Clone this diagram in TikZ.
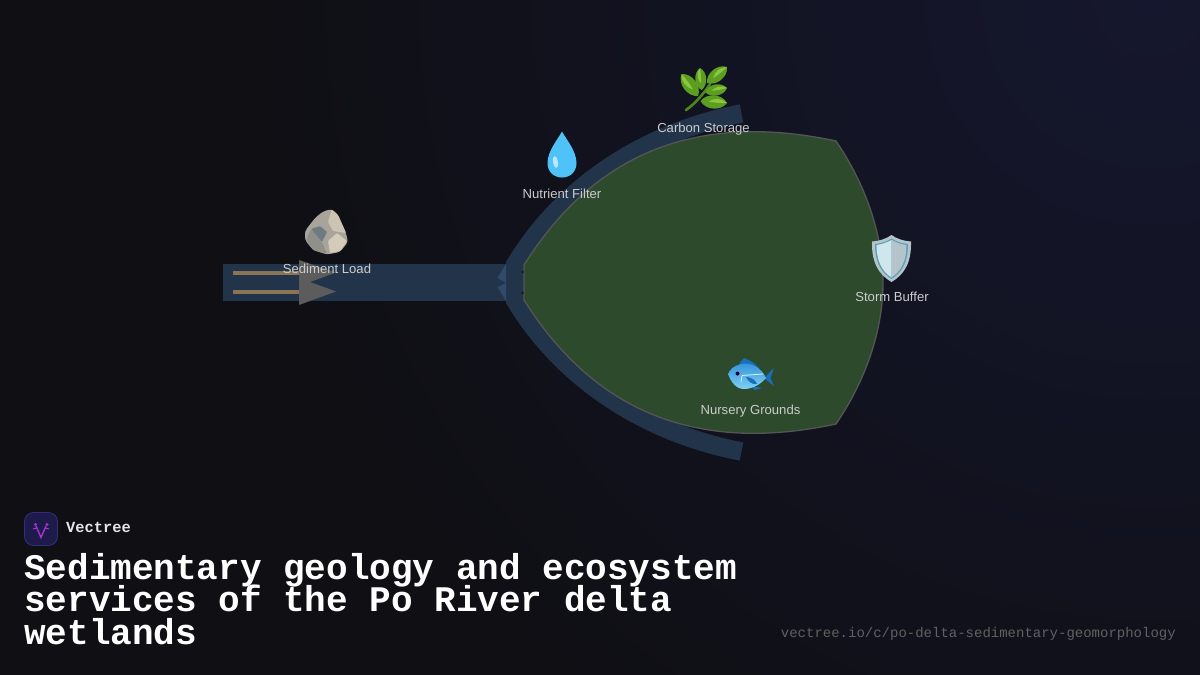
\documentclass[tikz,border=0pt]{standalone}
\usepackage{fontspec}
\setmainfont{Liberation Sans}
\setmonofont{Liberation Mono}
\usepackage{tikz}
\usetikzlibrary{positioning, arrows.meta, shapes.geometric, calc}
\definecolor{bgdark}{HTML}{0F0F14}
\definecolor{bgblue}{HTML}{15172E}
\definecolor{channel}{HTML}{22344A}
\definecolor{headblue}{HTML}{2F4A6B}
\definecolor{marsh}{HTML}{2D4A2D}
\definecolor{marshline}{HTML}{555555}
\definecolor{sediment}{HTML}{8B7355}
\definecolor{headgrey}{HTML}{5C5C5C}
\definecolor{leafgreen}{HTML}{5C9E21}
\definecolor{leaflight}{HTML}{8CC63F}
\definecolor{dropblue}{HTML}{4FC3F7}
\definecolor{fishdark}{HTML}{1B6FB8}
\definecolor{fishtop}{HTML}{2F8FD8}
\definecolor{fishlow}{HTML}{7FD0F5}
\definecolor{logofill}{HTML}{1E1B4B}
\definecolor{logoline}{HTML}{312E81}
\definecolor{logomark}{HTML}{A632D0}
\definecolor{rockbase}{HTML}{A8A49C}
\definecolor{rocklight}{HTML}{CDC3B3}
\definecolor{rockpale}{HTML}{D5CBBA}
\definecolor{rockblue}{HTML}{6D7A80}
\definecolor{rocklow}{HTML}{8F908A}
\definecolor{shieldrim}{HTML}{B4C4CC}
\definecolor{shieldline}{HTML}{5D9FB5}
\definecolor{shieldleft}{HTML}{CFE6EC}
\definecolor{shieldright}{HTML}{B5C4CB}
\tikzset{
    lbl/.style={font=\fontsize{13.1}{15}\selectfont, text=black!20!white, inner sep=0pt},
    titleline/.style={anchor=base west, inner sep=0pt, font=\ttfamily\bfseries\fontsize{36}{40}\selectfont, text=white}
}

\begin{document}
\begin{tikzpicture}[x=1pt, y=-1pt]
    \useasboundingbox (0,0) rectangle (1200,675);
    \fill[bgdark] (0,0) rectangle (1200,675);
    \begin{scope}
        \clip (0,0) rectangle (1200,675);
        \shade[inner color=bgblue, outer color=bgdark] (1150,0) circle (900);
    \end{scope}

    % Channel and levee band
    \fill[channel] (223,264) rectangle (506,301);
    \draw[channel, line width=18.5pt] (741.5,113.5) .. controls (640,133) and (560,190) .. (515,265)
        -- (515,300) .. controls (560,375) and (640,432) .. (741.5,451.5);

    % Heads on the band
    \fill[headblue] (506,264) -- (497.5,278) -- (506,283) -- cycle;
    \fill[headblue] (506,283) -- (497.5,287) -- (506,301) -- cycle;
    \foreach \y in {272, 293} {
        \fill[black!80!channel] (524,\y-2) -- (521.5,\y) -- (524,\y+2) -- cycle;
    }

    % Wetland lens
    \draw[draw=marshline, fill=marsh, line width=1.3pt] (524,265)
        .. controls (585,168) and (680,107.5) .. (836,141)
        .. controls (866,185) and (883,235) .. (883,282.5)
        .. controls (883,330) and (866,380) .. (836,424)
        .. controls (680,457.5) and (585,397) .. (524,300) -- cycle;

    % Sediment inflow
    \coordinate (inA) at (233,273);
    \coordinate (inB) at (233,291.5);
    \coordinate (tipA) at (299,273);
    \coordinate (tipB) at (299,291.5);
    \draw[sediment, line width=4pt] (inA) -- (tipA);
    \draw[sediment, line width=4pt] (inB) -- (tipB);
    \fill[headgrey] (299,260) -- (336,272.5) -- (299,286) -- cycle;
    \fill[headgrey] (299,278) -- (336,291.5) -- (299,305) -- cycle;

    % Rock
    \fill[rockbase, rounded corners=3pt] (331.7,209) -- (338,215) -- (346,233) -- (348,242)
        -- (340,252) -- (327,254.5) -- (313,250) -- (305,240) -- (305,231) -- (315,218) -- (323,211.5) -- cycle;
    \fill[rocklight, rounded corners=1pt] (331.7,209.5) -- (338,215) -- (346,233) -- (333,231) -- (328,222) -- cycle;
    \fill[rockblue, rounded corners=1pt] (311,229) -- (322,242) -- (327,232) -- (320,226) -- cycle;
    \fill[rockpale, rounded corners=1pt] (328,241) -- (337,233) -- (347,241) -- (340,251) -- (330,253) -- cycle;
    \fill[rocklow, rounded corners=1pt] (306,240) -- (311,229) -- (322,242) -- (327,254) -- (313,250) -- cycle;

    % Drop
    \fill[dropblue] (562,131.5) .. controls (558,139) and (547.5,151) .. (547.5,163)
        .. controls (547.5,172) and (554,177.5) .. (562,177.5)
        .. controls (570,177.5) and (576.5,172) .. (576.5,163)
        .. controls (576.5,151) and (566,139) .. (562,131.5);
    \fill[dropblue!40!white, rotate around={10:(555.5,162)}] (555.5,162) ellipse (2.4 and 6);

    % Sprig
    \draw[leafgreen!85!black, line width=2.6pt, line cap=round] (686,110) .. controls (695,104) and (705,92) .. (710,84);
    \foreach \bx/\by/\tx/\ty in {698/96/681.5/74, 701.5/90/700/68, 707/83/727/67, 705/92/727/88, 700.5/101/727/103} {
        \fill[leafgreen] (\bx,\by) to[bend left=58] (\tx,\ty) to[bend left=58] (\bx,\by);
        \fill[leaflight] (\tx,\ty) to[bend right=38] ($(\bx,\by)!0.3!(\tx,\ty)$) to[bend right=5] (\tx,\ty);
    }

    % Shield
    \fill[shieldrim] (891.5,235) .. controls (897,239) and (904,241) .. (911,241.5)
        .. controls (911.5,262) and (905,274) .. (891.5,282)
        .. controls (878,274) and (871.5,262) .. (872,241.5)
        .. controls (879,241) and (886,239) .. (891.5,235) -- cycle;
    \fill[shieldline] (891.5,238.5) .. controls (896,241.5) and (902,243.5) .. (908,244)
        .. controls (908,261) and (903,272) .. (891.5,279)
        .. controls (880,272) and (875,261) .. (875,244)
        .. controls (881,243.5) and (887,241.5) .. (891.5,238.5) -- cycle;
    \fill[shieldleft] (891.5,240) .. controls (887,242.5) and (881.5,244.5) .. (876.5,245)
        .. controls (876.5,260) and (881.5,271) .. (891.5,277.5) -- cycle;
    \fill[shieldright] (891.5,240) .. controls (896,242.5) and (901.5,244.5) .. (906.5,245)
        .. controls (906.5,260) and (901.5,271) .. (891.5,277.5) -- cycle;

    % Fish
    \fill[fishdark] (738,366) .. controls (741,362) and (742,359) .. (744,358)
        .. controls (752,361) and (758,365) .. (761,372) -- cycle;
    \fill[fishdark] (764,378) -- (774,368) -- (770.5,378) -- (774,386) -- cycle;
    \fill[fishdark] (752,386) -- (762,388) -- (754,390) -- cycle;
    \shade[top color=fishtop, bottom color=fishlow] (728,374) .. controls (732,364) and (746,361) .. (755,366)
        .. controls (760,369) and (764,373) .. (766,378)
        .. controls (760,385) and (752,389) .. (744,389)
        .. controls (736,389) and (731,382) .. (728,374) -- cycle;
    \fill[black!80!blue] (737.5,373.5) circle (2);
    \draw[white!85!cyan, line width=0.8pt] (742,375.5) -- (763,374) (742,375.5) -- (741,382);
    \fill[fishdark] (746,377) .. controls (752,377) and (756,381) .. (757,384)
        .. controls (752,385) and (748,381) .. (746,377) -- cycle;

    % Labels
    \node[lbl] (rockLbl) at (327,268.5) {Sediment Load};
    \node[lbl] (dropLbl) at (562,193.5) {Nutrient Filter};
    \node[lbl] (sprigLbl) at (703.5,129.5) {Carbon Storage};
    \node[lbl] (shieldLbl) at (892,296.5) {Storm Buffer};
    \node[lbl] (fishLbl) at (750.5,411.5) {Nursery Grounds};

    % Logo
    \draw[draw=logoline, fill=logofill, line width=0.8pt, rounded corners=9pt] (24.5,512.5) rectangle (57.5,545.5);
    \draw[logomark, line width=1.4pt] (36,526) -- (41,537.5) -- (46,526);
    \draw[logomark, line width=1pt] (33,529) -- (37,528) (49,529) -- (45,528);
    \foreach \x in {35.5, 47} {
        \fill[logomark] (\x,524.5) circle (1.7);
    }

    % Footer text
    \node[anchor=base west, inner sep=0pt, font=\ttfamily\bfseries\fontsize{15.4}{18}\selectfont, text=black!10!white] (brand) at (66,532.5) {Vectree};
    \node[titleline] (titleA) at (24,579) {Sedimentary geology and ecosystem};
    \node[titleline] (titleB) at (24,611.5) {services of the Po River delta};
    \node[titleline] (titleC) at (24,644) {wetlands};
    \node[anchor=base east, inner sep=0pt, font=\ttfamily\fontsize{14}{16}\selectfont, text=black!62!white] (url) at (1176,637.5) {vectree.io/c/po-delta-sedimentary-geomorphology};
\end{tikzpicture}
\end{document}
